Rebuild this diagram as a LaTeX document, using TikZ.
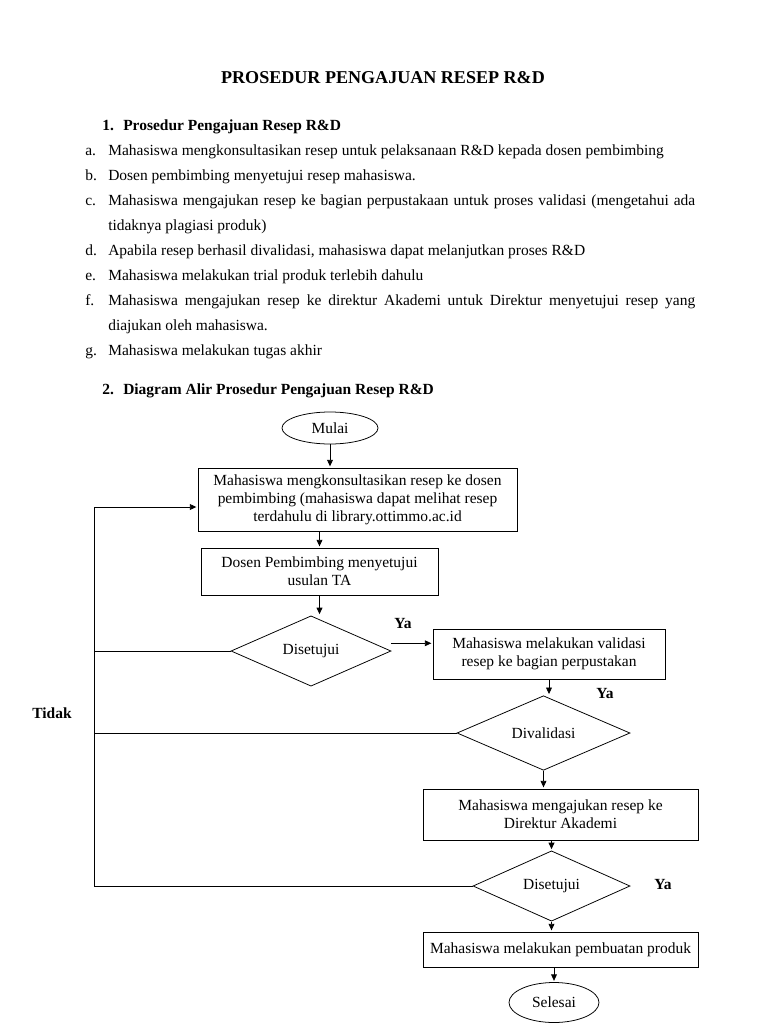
\documentclass[tikz,border=0pt]{standalone}
\usepackage{fontspec}
\setmainfont{Liberation Serif}
\usetikzlibrary{arrows.meta,shapes.geometric}
\newdimen\pxu \pxu=0.775pt
\def\isi{\fontsize{12}{13.8}\selectfont}
\tikzset{
	teks/.style={anchor=base west, inner sep=0pt, font=\isi},
	tebal/.style={anchor=base west, inner sep=0pt, font=\isi\bfseries},
	ket/.style={inner sep=0pt, font=\isi\bfseries},
	kotak/.style 2 args={draw, line width=0.6pt, align=center, inner sep=0pt, font=\isi, minimum width=#1*\pxu, minimum height=#2*\pxu},
	wajik/.style 2 args={draw, diamond, line width=0.6pt, inner sep=0pt, font=\isi, minimum width=#1*\pxu, minimum height=#2*\pxu},
	elips/.style 2 args={draw, ellipse, line width=0.6pt, inner sep=0pt, font=\isi, minimum width=#1*\pxu, minimum height=#2*\pxu},
	garis/.style={line width=0.6pt},
	panah/.style={line width=0.6pt, -{Triangle[length=5pt,width=4.5pt]}, shorten >=1pt}
}

\begin{document}
\begin{tikzpicture}[x=0.775pt, y=-0.775pt]
			%%%%% START %%%%%
			\useasboundingbox[fill=white] (0, 0) rectangle (768, 1024);
			
			\node[anchor=base, inner sep=0pt, font=\fontsize{14}{16}\selectfont\bfseries] (judul) at (383, 83) {PROSEDUR PENGAJUAN RESEP R\&D};
			
			\node[tebal] (no1) at (102, 130) {1.};
			\node[tebal] (sub1) at (123, 130) {Prosedur Pengajuan Resep R\&D};
			
			\node[teks] (hA) at (85, 155) {a.};
			\node[teks] (tA) at (108, 155) {Mahasiswa mengkonsultasikan resep untuk pelaksanaan R\&D kepada dosen pembimbing};
			\node[teks] (hB) at (85, 180) {b.};
			\node[teks] (tB) at (108, 180) {Dosen pembimbing menyetujui resep mahasiswa.};
			\node[teks] (hC) at (85, 205) {c.};
			\node[teks] (tC) at (108, 205) {\makebox[587\pxu][s]{Mahasiswa mengajukan resep ke bagian perpustakaan untuk proses validasi (mengetahui ada}};
			\node[teks] (tC2) at (108, 230) {tidaknya plagiasi produk)};
			\node[teks] (hD) at (85, 255) {d.};
			\node[teks] (tD) at (108, 255) {Apabila resep berhasil divalidasi, mahasiswa dapat melanjutkan proses R\&D};
			\node[teks] (hE) at (85, 280) {e.};
			\node[teks] (tE) at (108, 280) {Mahasiswa melakukan trial produk terlebih dahulu};
			\node[teks] (hF) at (85, 305) {f.};
			\node[teks] (tF) at (108, 305) {\makebox[587\pxu][s]{Mahasiswa mengajukan resep ke direktur Akademi untuk Direktur menyetujui resep yang}};
			\node[teks] (tF2) at (108, 330) {diajukan oleh mahasiswa.};
			\node[teks] (hG) at (85, 355) {g.};
			\node[teks] (tG) at (108, 355) {Mahasiswa melakukan tugas akhir};
			
			\node[tebal] (no2) at (102, 394) {2.};
			\node[tebal] (sub2) at (123, 394) {Diagram Alir Prosedur Pengajuan Resep R\&D};
			
			\node[elips={96}{32}] (mulai) at (330, 428) {Mulai};
			\node[kotak={319}{63}] (konsul) at (357.5, 499.5) {Mahasiswa mengkonsultasikan resep ke dosen\\pembimbing (mahasiswa dapat melihat resep\\terdahulu di library.ottimmo.ac.id};
			\node[kotak={237}{47}] (dosen) at (319.5, 571.5) {Dosen Pembimbing menyetujui\\usulan TA};
			\node[wajik={160}{55}] (setuju1) at (311, 651) {Disetujui};
			\node[kotak={232}{50}] (validasi) at (549, 654) {Mahasiswa melakukan validasi\\resep ke bagian perpustakan};
			\node[wajik={173}{72}] (divalid) at (543.5, 733) {Divalidasi};
			\node[kotak={275}{51}] (direktur) at (560.5, 814.5) {Mahasiswa mengajukan resep ke\\Direktur Akademi};
			\node[wajik={157}{55}] (setuju2) at (551.5, 886) {Disetujui};
			\node[kotak={275}{35}] (produk) at (560.5, 949.5) {Mahasiswa melakukan pembuatan produk};
			\node[elips={90}{40}] (selesai) at (554, 1002.5) {Selesai};
			
			\node[ket] (ya1) at (403, 623) {Ya};
			\node[ket] (ya2) at (605, 693) {Ya};
			\node[ket] (ya3) at (663, 884) {Ya};
			\node[ket] (tidak) at (52, 713) {Tidak};
			
			\draw[panah] (mulai.south) -- (mulai.south |- konsul.north);
			\draw[panah] (dosen.north |- konsul.south) -- (dosen.north);
			\draw[panah] (dosen.south) -- (dosen.south |- setuju1.north);
			\draw[panah] ([yshift=6pt]setuju1.east) -- ([yshift=6pt]setuju1.east -| validasi.west);
			\draw[panah] (validasi.south) -- (validasi.south |- divalid.north);
			\draw[panah] (divalid.south) -- (divalid.south |- direktur.north);
			\draw[panah] (setuju2.north |- direktur.south) -- (setuju2.north);
			\draw[panah] (setuju2.south) -- (setuju2.south |- produk.north);
			\draw[panah] (selesai.north |- produk.south) -- (selesai.north);
			
			\coordinate (balik) at (94, 507);
			\draw[panah] (balik) -- (balik -| konsul.west);
			\draw[garis] (setuju1.west) -- (setuju1.west -| balik);
			\draw[garis] (divalid.west) -- (divalid.west -| balik);
			\draw[garis] (setuju2.west) -- (setuju2.west -| balik) -- (balik);
			
			%%%%% END %%%%%
\end{tikzpicture}
\end{document}
